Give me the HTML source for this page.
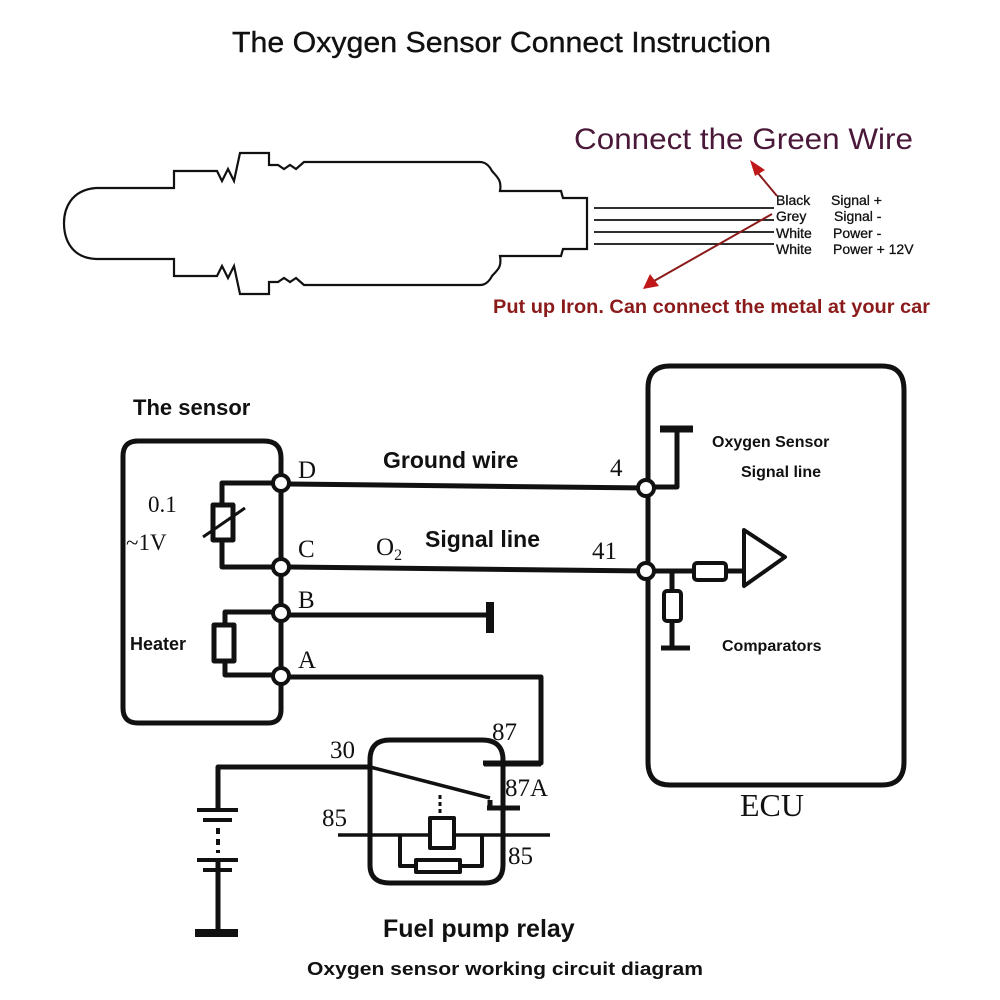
<!DOCTYPE html>
<html><head><meta charset="utf-8"><style>
html,body{margin:0;padding:0;background:#fff;}
svg{display:block;}
.b{font-family:"Liberation Sans",sans-serif;font-weight:bold;fill:#111;}
.s{font-family:"Liberation Serif",serif;fill:#111;}
</style></head><body>
<svg width="1000" height="1000" viewBox="0 0 1000 1000" xmlns="http://www.w3.org/2000/svg">
<rect width="1000" height="1000" fill="#fff"/>
<text x="232" y="52" font-family="Liberation Sans,sans-serif" font-size="29" fill="#111" stroke="#111" stroke-width="0.4" textLength="539" lengthAdjust="spacingAndGlyphs">The Oxygen Sensor Connect Instruction</text>
<text x="574" y="149" font-family="Liberation Sans,sans-serif" font-size="30" fill="#4a1838" textLength="339" lengthAdjust="spacingAndGlyphs">Connect the Green Wire</text>

<g fill="none" stroke="#111" stroke-width="2.2">
<path d="M96,188 C70,190 64,210 64,223 C64,240 72,258 96,259 L174,259 L174,276 L217,276 L222,266 L228,278 L234,266 L240,294 L269,294 L269,282 L278,282 L284,278 L290,282 L296,278 L304,285 L480,285 C486,285 490,280 492,276 C497,270 502,268 500,256 L561,256 L563,249 L587,249 L587,198 L563,198 L561,191 L500,191 C502,180 497,177 492,171 C490,167 486,162 480,162 L304,162 L296,169 L290,165 L284,169 L278,165 L269,165 L269,153 L240,153 L234,181 L228,169 L222,181 L217,171 L174,171 L174,188 Z"/>
<path d="M594,208 H774 M594,220 H774 M594,232 H774 M594,244 H774" stroke-width="1.8"/>
</g>
<g font-family="Liberation Sans,sans-serif" font-size="14" fill="#111" stroke="#111" stroke-width="0.3">
<text x="776" y="205">Black</text><text x="831" y="205">Signal +</text>
<text x="776" y="221">Grey</text><text x="834" y="221">Signal -</text>
<text x="776" y="238">White</text><text x="833" y="238">Power -</text>
<text x="776" y="254">White</text><text x="833" y="254">Power + 12V</text>
</g>
<g stroke="#8b1a1a" stroke-width="2" fill="#c01818">
<line x1="777" y1="196" x2="757" y2="172"/>
<polygon points="750,160 765,170 755,176" stroke="none"/>
<line x1="772" y1="214" x2="654" y2="281"/>
<polygon points="643,289 650,274 659,286" stroke="none"/>
</g>
<text x="493" y="313" font-family="Liberation Sans,sans-serif" font-weight="bold" font-size="19" fill="#8b1a1a" textLength="437" lengthAdjust="spacingAndGlyphs">Put up Iron. Can connect the metal at your car</text>

<text x="133" y="415" class="b" font-size="22">The sensor</text>
<g fill="none" stroke="#111" stroke-width="5" stroke-linejoin="round">
<path d="M281,483 L281,458 Q281,441 264,441 L138,441 Q123,441 123,456 L123,708 Q123,723 138,723 L268,723 Q281,723 281,710 L281,675"/>
<path d="M281,483 V675"/>
<path d="M281,483 H222 V567 H281"/>
<rect x="213" y="505" width="20" height="35" fill="#fff"/>
<path d="M203,537 L245,508" stroke-width="3"/>
<path d="M281,612 H225 V675 H281"/>
<rect x="214" y="625" width="20" height="36" fill="#fff"/>
<path d="M289,484 L645,488"/>
<path d="M289,567 L645,571"/>
<path d="M289,615 H490"/>
<path d="M490,602 V633" stroke-width="8"/>
<path d="M289,677 H541 V763 H483"/>
<path d="M648,388 Q648,366 670,366 L882,366 Q904,366 904,390 L904,762 Q904,785 882,785 L670,785 Q648,785 648,762 Z"/>
<path d="M653,487 H677 V430"/>
<path d="M660,429 H693" stroke-width="7"/>
<path d="M653,571 H692 M728,571 H742"/>
<rect x="694" y="563" width="32" height="17" rx="3" fill="#fff" stroke-width="4"/>
<path d="M744,530 L785,557 L744,586 Z" stroke-width="4"/>
<path d="M672,571 V590"/>
<rect x="664" y="591" width="17" height="30" rx="3" fill="#fff" stroke-width="4"/>
<path d="M672,621 V648 M661,648 H690"/>
<path d="M370,760 Q370,740 390,740 L482,740 Q503,740 503,760 L503,865 Q503,883 485,883 L390,883 Q370,883 370,865 Z"/>
<path d="M370,767 H218 V810"/>
<path d="M370,767 L490,798" stroke-width="3.5"/>
<path d="M484,764 H541 M487,808 H520"/>
<path d="M490,800 L490,808" stroke-width="5"/>
<path d="M338,835 H550" stroke-width="3.5"/>
<path d="M440,795 V815" stroke-width="3" stroke-dasharray="4,3"/>
<rect x="430" y="818" width="24" height="30" fill="#fff" stroke-width="4"/>
<path d="M400,835 V866 H482 V835" stroke-width="4"/>
<rect x="416" y="860" width="44" height="12" fill="#fff" stroke-width="4"/>
<path d="M197,810 H238 M203,820 H232" stroke-width="4"/>
<path d="M218,828 V853" stroke-width="4" stroke-dasharray="6,5"/>
<path d="M197,860 H238 M203,870 H232" stroke-width="4"/>
<path d="M218,860 V932"/>
<path d="M195,933 H238" stroke-width="8"/>
</g>
<g fill="#fff" stroke="#111" stroke-width="4">
<circle cx="281" cy="483" r="8"/><circle cx="281" cy="567" r="8"/>
<circle cx="281" cy="613" r="8"/><circle cx="281" cy="676" r="8"/>
<circle cx="646" cy="488" r="8"/><circle cx="646" cy="571" r="8"/>
</g>
<g class="s" font-size="25">
<text x="298" y="478">D</text><text x="298" y="557">C</text>
<text x="298" y="608">B</text><text x="298" y="668">A</text>
<text x="610" y="476">4</text><text x="592" y="559">41</text>
<text x="376" y="555">O<tspan font-size="16" dy="5">2</tspan></text>
<text x="330" y="758">30</text><text x="492" y="740">87</text>
<text x="505" y="796">87A</text><text x="322" y="826">85</text>
<text x="508" y="864">85</text>
<text x="740" y="816" font-size="32">ECU</text>
<text x="148" y="512" font-size="23">0.1</text>
<text x="126" y="550" font-size="23">~1V</text>
</g>
<text x="383" y="468" class="b" font-size="23">Ground wire</text>
<text x="425" y="547" class="b" font-size="23">Signal line</text>
<text x="130" y="650" class="b" font-size="18">Heater</text>
<text x="712" y="447" class="b" font-size="16">Oxygen Sensor</text>
<text x="741" y="477" class="b" font-size="16">Signal line</text>
<text x="722" y="651" class="b" font-size="16">Comparators</text>
<text x="383" y="937" class="b" font-size="25">Fuel pump relay</text>
<text x="307" y="975" class="b" font-size="18.5" textLength="396" lengthAdjust="spacingAndGlyphs">Oxygen sensor working circuit diagram</text>
</svg>
</body></html>
